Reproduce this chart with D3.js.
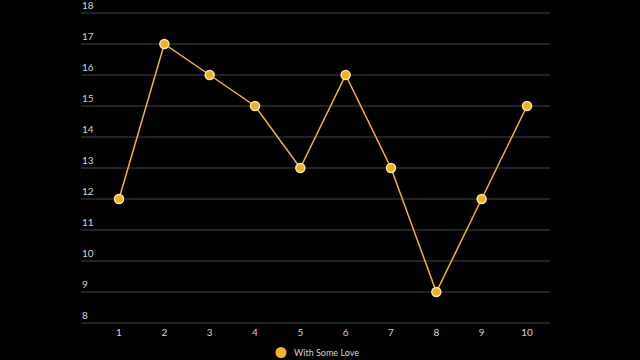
<!DOCTYPE html>
<html><head><meta charset="utf-8">
<script src="https://cdn.jsdelivr.net/npm/d3@7"></script>
<style>html,body{margin:0;padding:0;background:#000;}svg{display:block;}</style>
</head><body>
<svg id="c" width="640" height="360"></svg>
<script>
const categories = [1,2,3,4,5,6,7,8,9,10];
const values = [12,17,16,15,13,16,13,9,12,15];
const yTicks = [8,9,10,11,12,13,14,15,16,17,18];
const seriesName = "With Some Love";

const svg = d3.select("#c");
const font = "Lato, 'Open Sans', sans-serif";
const x = d3.scaleLinear().domain([1,10]).range([119,527]);
const y = d3.scaleLinear().domain([8,18]).range([323,13]);

// grid
svg.append("g").selectAll("line").data(yTicks).join("line")
  .attr("x1",81).attr("x2",550)
  .attr("y1",d=>y(d)).attr("y2",d=>y(d))
  .attr("stroke","#2e2e2e").attr("stroke-width",1.5);
svg.append("g").selectAll("text").data(yTicks).join("text")
  .attr("x",82).attr("y",d=>y(d)-4)
  .attr("fill","#d4d4d4").attr("font-family",font).attr("font-size",10)
  .text(d=>d);
svg.append("g").selectAll("text").data(categories).join("text")
  .attr("x",d=>x(d)).attr("y",336).attr("text-anchor","middle")
  .attr("fill","#d4d4d4").attr("font-family",font).attr("font-size",10)
  .text(d=>d);

const line = d3.line().x((d,i)=>x(categories[i])).y(d=>y(d));
svg.append("path").datum(values).attr("d",line)
  .attr("fill","none").attr("stroke","#f2b42c").attr("stroke-width",1.5);
svg.append("g").selectAll("circle").data(values).join("circle")
  .attr("cx",(d,i)=>x(categories[i])).attr("cy",d=>y(d)).attr("r",4.5)
  .attr("fill","#f0b020").attr("stroke","#fbe6b8").attr("stroke-width",1.5);

// legend
svg.append("circle").attr("cx",281).attr("cy",352.5).attr("r",5.5).attr("fill","#f2b42c");
svg.append("text").attr("x",294).attr("y",355.8)
  .attr("fill","#d4d4d4").attr("font-family",font).attr("font-size",9)
  .text(seriesName);
</script>
</body></html>
